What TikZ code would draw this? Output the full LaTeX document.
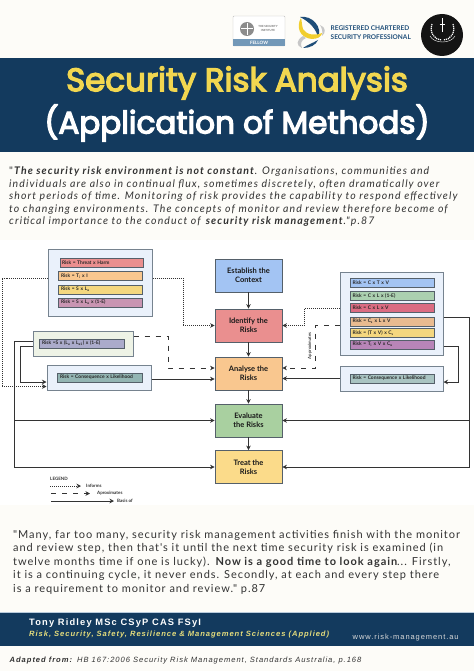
\documentclass[tikz,border=0pt]{standalone}
\usepackage{fontspec}
\setmainfont{Lato}
\newfontfamily\titlefont[FakeBold=4]{Poppins}
\newfontfamily\quotefont[LetterSpace=10.5]{Lato}
\newfontfamily\quotewide[LetterSpace=8.7]{Lato}
\newfontfamily\footfont[LetterSpace=12.5]{Liberation Sans}
\usepackage{tikz}
\usetikzlibrary{arrows.meta,calc}
\usepackage{xcolor}
\definecolor{navyband}{HTML}{133A5E}
\definecolor{pagecream}{HTML}{FDFCF8}
\definecolor{titleyellow}{HTML}{F2D750}
\definecolor{footyellow}{HTML}{E4DC7C}
\definecolor{textgray}{HTML}{333333}
\definecolor{boxline}{HTML}{55606A}
\definecolor{panelline}{HTML}{76838F}
\definecolor{panelblue}{HTML}{EAF1FB}
\definecolor{panelgreen}{HTML}{EEF3E6}
\definecolor{estblue}{HTML}{A3C4F3}
\definecolor{idred}{HTML}{EA8F8F}
\definecolor{anorange}{HTML}{F9C78F}
\definecolor{evgreen}{HTML}{A9D0A0}
\definecolor{tryellow}{HTML}{FBDB8A}
\definecolor{formmauve}{HTML}{C995B2}
\definecolor{formslate}{HTML}{ABABCB}
\definecolor{formteal}{HTML}{93B5B3}
\definecolor{formgreen}{HTML}{ABD0B0}
\definecolor{formrose}{HTML}{DB6C82}
\definecolor{formpeach}{HTML}{E9BB90}
\definecolor{formgold}{HTML}{F4D77F}
\definecolor{formplum}{HTML}{B885B8}
\definecolor{logonavy}{HTML}{1F4E79}
\definecolor{logogold}{HTML}{F1CE2E}
\definecolor{badgeblue}{HTML}{7298B8}

\begin{document}
\begin{tikzpicture}[
  x=1pt,y=-1pt,
  stepbox/.style={rectangle,draw=boxline,line width=0.8pt,minimum width=67pt,minimum height=33pt,
    align=center,inner sep=0pt,text=black!90,font=\fontsize{7.5}{9}\selectfont\bfseries},
  panel/.style={rectangle,draw=panelline,line width=1pt,fill=panelblue,inner sep=0pt},
  formula/.style={rectangle,draw=boxline,line width=0.7pt,minimum width=84pt,minimum height=9pt,
    inner sep=0pt,text width=79pt,align=left,text=black!85,font=\fontsize{4.9}{5}\selectfont\bfseries},
  basis/.style={-{Stealth[length=4.5pt,width=4.5pt]},line width=1pt,draw=black!80},
  informs/.style={-{Stealth[length=4.5pt,width=4.5pt]},line width=1pt,draw=black!80,
    dash pattern=on 1pt off 1pt},
  approx/.style={-{Stealth[length=4.5pt,width=4.5pt]},line width=1pt,draw=black!80,
    dash pattern=on 5pt off 6pt},
  quoteline/.style={anchor=west,inner sep=0pt,text=textgray,font=\fontsize{10.5}{12}\quotefont},
  quotelinewide/.style={anchor=west,inner sep=0pt,text=textgray,font=\fontsize{11}{13}\quotewide},
  legendtext/.style={anchor=west,inner sep=0pt,text=black!80,font=\fontsize{4.5}{5}\selectfont\bfseries},
]
\useasboundingbox (0,0) rectangle (474,671);

% Backgrounds
\fill[pagecream] (0,0) rectangle (474,671);
\fill[white] (0,240) rectangle (474,505);
\fill[navyband] (0,58) rectangle (474,152);
\fill[navyband] (0,613) rectangle (474,646);
\fill[badgeblue!50] (0,612) rectangle (474,613);

% Logos
\draw[black!25,fill=white,rounded corners=1pt] (233,16) rectangle (285,46);
\fill[badgeblue] (233,39) rectangle (285,46);
\node[inner sep=0pt,text=white,font=\fontsize{4.5}{5}\selectfont\bfseries] (fellow) at (259,42.7) {FELLOW};
\fill[black!45] (247,29) circle (7);
\draw[white,line width=1pt] (241,29) -- (253,29) (247,23) -- (247,35);
\node[inner sep=0pt,align=center,text=black!55,font=\fontsize{2.8}{4}\selectfont\bfseries] (institute) at (268,28.5) {THE SECURITY\\INSTITUTE};
\fill[black!22] (303,36) .. controls (296,40) and (296,46) .. (302,48) .. controls (300,44) and (301,40) .. (306,38) -- cycle;
\fill[black!22] (320,25) .. controls (326,27) and (326,33) .. (322,36) .. controls (323,32) and (322,28) .. (320,25) -- cycle;
\fill[logonavy] (300,17) .. controls (312,15) and (323,27) .. (318,38) .. controls (317,30) and (310,22) .. (300,17) -- cycle;
\fill[logonavy] (303,48) .. controls (310,48) and (316,45) .. (318,40) .. controls (313,43) and (307,45) .. (303,48) -- cycle;
\fill[logogold] (301,18) .. controls (296,26) and (299,38) .. (312,39) .. controls (318,39) and (322,36) .. (322,33) .. controls (316,36) and (306,35) .. (303,29) .. controls (302,26) and (302,22) .. (301,18) -- cycle;
\node[anchor=west,inner sep=0pt,align=left,text=logonavy,font=\fontsize{6.5}{9.2}\selectfont\bfseries] (rcsp) at (330.5,32.5) {REGISTERED CHARTERED\\SECURITY PROFESSIONAL};
\fill[black!92] (442,35) circle (21);
\draw[white,line width=1pt] (442,18) -- (442,32);
\draw[white,line width=0.5pt] (439.5,24) -- (444.5,24);
\draw[white,line width=1.2pt,dash pattern=on 1.2pt off 0.8pt] (432,24) .. controls (429,33) and (435,40) .. (441.5,40);
\draw[white,line width=1.2pt,dash pattern=on 1.2pt off 0.8pt] (453,24) .. controls (456,33) and (450,40) .. (443.5,40);
\draw[white,line width=0.4pt] (430,36) .. controls (434,44) and (451,44) .. (455,36);

% Title
\node[inner sep=0pt,text=titleyellow,font=\fontsize{32.5}{34}\titlefont] (title1) at (237,83) {Security Risk Analysis};
\node[inner sep=0pt,text=white,font=\fontsize{31}{34}\titlefont] (title2) at (237,123) {(Application of Methods)};

% First quote
\node[quoteline] (qa1) at (9,172) {"\textbf{\itshape The security risk environment is not constant}\textit{. Organisations, communities and}};
\node[quoteline] (qa2) at (9,184.5) {\textit{individuals are also in continual flux, sometimes discretely, often dramatically over}};
\node[quoteline] (qa3) at (9,197) {\textit{short periods of time. Monitoring of risk provides the capability to respond effectively}};
\node[quoteline] (qa4) at (9,209.5) {\textit{to changing environments. The concepts of monitor and review therefore become of}};
\node[quoteline] (qa5) at (9,222) {\textit{critical importance to the conduct of }\textbf{\itshape security risk management}\textit{."p.87}};

% Main steps
\node[stepbox,fill=estblue] (establish) at (248.5,275.5) {Establish the\\Context};
\node[stepbox,fill=idred] (identify) at (248.5,325.5) {Identify the\\Risks};
\node[stepbox,fill=anorange] (analyse) at (248.5,373.5) {Analyse the\\Risks};
\node[stepbox,fill=evgreen] (evaluate) at (248.5,420.5) {Evaluate\\the Risks};
\node[stepbox,fill=tryellow] (treat) at (248.5,467) {Treat the\\Risks};

\foreach \from/\to in {establish/identify,identify/analyse,analyse/evaluate,evaluate/treat}
  \draw[basis] (\from) -- (\to);

% Left panels
\node[panel,minimum width=104pt,minimum height=67pt] (panela) at (100,282.5) {};
\node[formula,fill=idred,minimum width=83pt] (fa1) at (101.5,262.5) {Risk = Threat x Harm};
\node[formula,fill=anorange] (fa2) at (100.5,276) {Risk = T\textsubscript{i} x I};
\node[formula,fill=formgold] (fa3) at (100.5,289.5) {Risk = S x L\textsubscript{a}};
\node[formula,fill=formmauve] (fa4) at (100.5,302.5) {Risk = S x L\textsubscript{a} x (1-E)};

\node[panel,fill=panelgreen,minimum width=100pt,minimum height=25pt] (panelb) at (83,343.5) {};
\node[formula,fill=formslate,minimum width=85pt] (fb1) at (81.5,343.5) {Risk =S x (L\textsubscript{a} x L\textsubscript{a1}) x (1-E)};

\node[panel,minimum width=104pt,minimum height=25pt] (panelc) at (99,377.5) {};
\node[formula,fill=formteal,minimum width=85pt] (fc1) at (99.5,377.5) {Risk = Consequence x Likelihood};

% Right panels
\node[panel,minimum width=103pt,minimum height=83pt] (paneld) at (391.5,313.5) {};
\node[formula,fill=estblue] (fd1) at (392,282.5) {Risk = C x T x V};
\node[formula,fill=formgreen] (fd2) at (392,295.5) {Risk = C x L x (1-E)};
\node[formula,fill=formrose] (fd3) at (392,308) {Risk = C x L x V};
\node[formula,fill=formpeach] (fd4) at (392,321.5) {Risk = C\textsubscript{s} x L x V};
\node[formula,fill=formgold] (fd5) at (392,333) {Risk = (T x V) x C\textsubscript{s}};
\node[formula,fill=formplum] (fd6) at (392,344.5) {Risk = T\textsubscript{i} x V x C\textsubscript{u}};

\node[panel,minimum width=103pt,minimum height=25pt] (panele) at (391.5,378.5) {};
\node[formula,fill=formteal!80,minimum width=84pt] (fe1) at (392,378.5) {Risk = Consequence x Likelihood};

% Left connectors
\draw[informs] ([yshift=4.5pt]panela.west) -- (2,278) |- ([yshift=-9pt]panelc.west);
\draw[informs] ([yshift=4.5pt]panela.east) -- (183,278) |- (identify.west);
\draw[approx] ([yshift=7.5pt]panelb.east) -- (168,336) |- ([yshift=5.5pt]analyse.west);
\draw[basis] ([yshift=-1.5pt]panelc.east) -- ([yshift=-5.5pt]analyse.west);
\draw[basis] ([yshift=-2.5pt]panelb.west) -- (20,346) |- ([yshift=-4.5pt]panelc.west);
\draw[basis] ([yshift=2.5pt]panelb.west) -- (14,341) |- (evaluate.west);
\draw[basis] (14,420.5) |- (treat.west);

% Right connectors
\draw[informs] ([yshift=5.5pt]paneld.west) -- (304,308) |- (identify.east);
\draw[approx] ([yshift=-11.5pt]paneld.west) -- (315,325) |- ([yshift=5.5pt]analyse.east);
\draw[basis] (panele.west) -- ([yshift=-5pt]analyse.east);
\draw[basis] ([yshift=-32.5pt]paneld.east) -- (458,346) |- ([yshift=-3.5pt]panele.east);
\draw[basis] ([yshift=-3.5pt]paneld.east) -- (469,317) |- (evaluate.east);
\draw[basis] (469,420.5) |- (treat.east);
\node[rotate=90,inner sep=0pt,text=black!75,font=\fontsize{4.3}{5}\selectfont\bfseries] (approxlabel) at (310,346) {Approximates};

% Legend
\node[legendtext] (legendtitle) at (50,479) {LEGEND};
\coordinate (lga) at (50,486);
\coordinate (lgb) at (81,486);
\coordinate (lgc) at (51,493.5);
\coordinate (lgd) at (90,493.5);
\coordinate (lge) at (51,501);
\coordinate (lgf) at (114,501);
\draw[informs] (lga) -- (lgb);
\draw[approx] (lgc) -- (lgd);
\draw[basis] (lge) -- (lgf);
\node[legendtext] (lgtext1) at (86,486) {Informs};
\node[legendtext] (lgtext2) at (97,493.5) {Aproximates};
\node[legendtext] (lgtext3) at (117,501) {Basis of};

% Second quote
\node[quotelinewide] (qb1) at (13,535) {"Many, far too many, security risk management activities finish with the monitor};
\node[quotelinewide] (qb2) at (13,548.5) {and review step, then that's it until the next time security risk is examined (in};
\node[quotelinewide] (qb3) at (13,562) {twelve months time if one is lucky). \textbf{Now is a good time to look again}... Firstly,};
\node[quotelinewide] (qb4) at (13,575.5) {it is a continuing cycle, it never ends. Secondly, at each and every step there};
\node[quotelinewide] (qb5) at (13,589) {is a requirement to monitor and review." p.87};

% Footer
\node[anchor=west,inner sep=0pt,text=white,font=\fontsize{9.3}{11}\footfont\bfseries] (author) at (29,623) {Tony Ridley MSc CSyP CAS FSyI};
\node[anchor=west,inner sep=0pt,text=footyellow,font=\fontsize{7.6}{9}\footfont\bfseries\itshape] (fields) at (29,635) {Risk, Security, Safety, Resilience \& Management Sciences (Applied)};
\node[anchor=west,inner sep=0pt,text=white!85!black,font=\fontsize{7.5}{9}\footfont] (website) at (352.5,638) {www.risk-management.au};
\node[anchor=west,inner sep=0pt,text=textgray,font=\fontsize{7.6}{9}\footfont] (source) at (9.5,661) {\textbf{\itshape Adapted from:} \textit{HB 167:2006 Security Risk Management, Standards Australia, p.168}};

\end{tikzpicture}
\end{document}
